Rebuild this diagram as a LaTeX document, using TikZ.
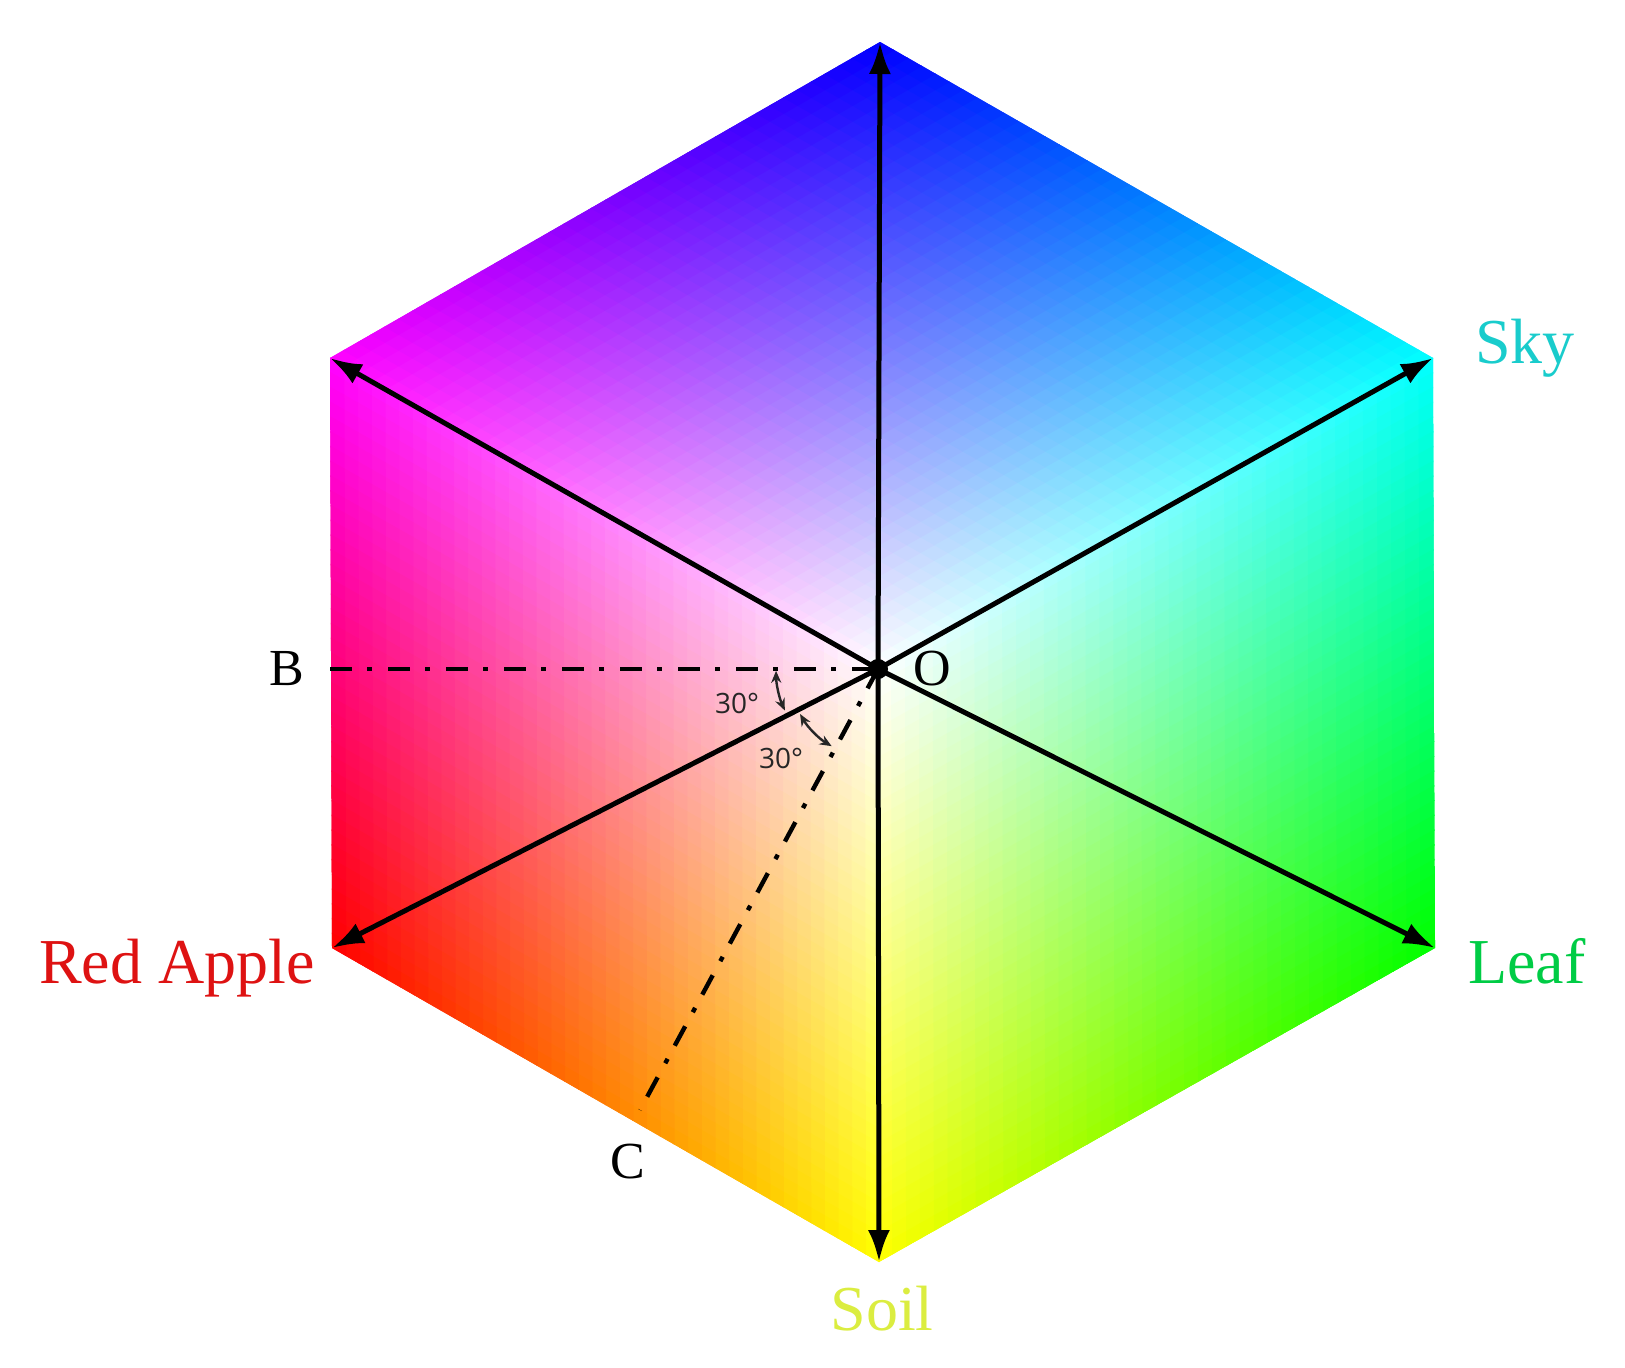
\documentclass[tikz,border=0pt]{standalone}
\usepackage{fontspec}
\setmainfont{Liberation Serif}
\newfontfamily\degfont{Open Sans}
\usetikzlibrary{arrows.meta,calc}

% bilinear grid over quad O(878,669), A, V, B
\newcommand\mkgrid[7]{%
 \foreach \i in {0,...,40}{%
  \foreach \j in {0,...,40}{%
   \pgfmathsetmacro\uu{\i/40}\pgfmathsetmacro\vv{\j/40}%
   \pgfmathsetmacro\px{(1-\uu)*(1-\vv)*878+\uu*(1-\vv)*#2+\uu*\vv*#4+(1-\uu)*\vv*#6}%
   \pgfmathsetmacro\py{(1-\uu)*(1-\vv)*669+\uu*(1-\vv)*#3+\uu*\vv*#5+(1-\uu)*\vv*#7}%
   \coordinate (#1-\i-\j) at (\px,\py);
  }}}
\newcommand\mkcells[2]{%
 \foreach \i in {0,...,39}{%
  \pgfmathtruncatemacro\ip{\i+1}%
  \foreach \j in {0,...,39}{%
   \pgfmathtruncatemacro\jp{\j+1}%
   \pgfmathsetmacro\cu{1-(\i+0.5)/40}%
   \pgfmathsetmacro\cv{1-(\j+0.5)/40}%
   \definecolor{cc}{rgb}{#2}%
   \filldraw[draw=cc,fill=cc,line width=0.7pt,line join=round] (#1-\i-\j) -- (#1-\ip-\j) -- (#1-\ip-\jp) -- (#1-\i-\jp) -- cycle;
  }}}

\definecolor{skyc}{rgb}{0.10,0.80,0.80}
\definecolor{leafc}{rgb}{0.00,0.80,0.27}
\definecolor{soilc}{rgb}{0.86,0.93,0.25}
\definecolor{applec}{rgb}{0.87,0.07,0.07}

\tikzset{
  bigl/.style={font=\fontsize{32}{38}\selectfont, inner sep=0pt, anchor=base},
  letl/.style={font=\fontsize{26}{30}\selectfont, inner sep=0pt, anchor=base, text=black},
  degl/.style={font=\degfont\fontsize{14}{16}\selectfont, inner sep=0pt, anchor=base, text=black!85},
  axisarrow/.style={line width=2.5pt, -{Latex[length=16pt,width=11pt]}},
  dashdotline/.style={line width=2.2pt, dash pattern=on 11pt off 7.5pt on 2.5pt off 8pt},
  anglearrow/.style={line width=1.2pt, black!85, {Stealth[length=6pt,width=5pt]}-{Stealth[length=6pt,width=5pt]}},
}

\begin{document}
\begin{tikzpicture}[x=0.5pt,y=-0.5pt]
\useasboundingbox (0,0) rectangle (1625,1367);
\fill[white] (0,0) rectangle (1625,1367);

\coordinate (T)   at (880,42);
\coordinate (UR)  at (1433,358);
\coordinate (LR)  at (1435,948);
\coordinate (Bot) at (879,1262);
\coordinate (LL)  at (332,948);
\coordinate (UL)  at (330,358);
\coordinate (Bend) at (330,669);
\coordinate (Cend) at (640,1110);

\begin{scope}
\clip (T) -- (UR) -- (LR) -- (Bot) -- (LL) -- (UL) -- cycle;
\mkgrid{F1}{1433}{358}{880}{42}{330}{358}
\mkgrid{F2}{1433}{358}{1435}{948}{879}{1262}
\mkgrid{F3}{879}{1262}{332}{948}{330}{358}
\mkcells{F1}{\cu,\cv,1}
\mkcells{F2}{\cu,1,\cv}
\mkcells{F3}{1,\cv,\cu}
\end{scope}

\node[circle, fill=black, inner sep=0pt, minimum size=10pt] (O) at (878,669) {};

\draw[dashdotline] (Bend) -- (O.center);
\draw[dashdotline] (O.center) -- (Cend);

\draw[axisarrow] (O.center) -- (T);
\draw[axisarrow] (O.center) -- (UR);
\draw[axisarrow] (O.center) -- (LR);
\draw[axisarrow] (O.center) -- (Bot);
\draw[axisarrow] (O.center) -- (LL);
\draw[axisarrow] (O.center) -- (UL);

\draw[anglearrow] ([shift={(179:102)}]O.center) arc[start angle=179, end angle=156, radius=102];
\draw[anglearrow] ([shift={(150:90)}]O.center) arc[start angle=150, end angle=121, radius=90];

\node[bigl, text=skyc] (sky) at (1525,363) {Sky};
\node[bigl, text=leafc] (leaf) at (1527,983) {Leaf};
\node[bigl, text=soilc] (soil) at (882,1330) {Soil};
\node[bigl, text=applec] (apple) at (177,983) {Red Apple};

\node[letl] (Blab) at (287,685) {B};
\node[letl] (Clab) at (628,1178) {C};
\node[letl] (Olab) at (932,685) {O};

\node[degl] (d1) at (737,713) {30°};
\node[degl] (d2) at (781,768) {30°};
\end{tikzpicture}
\end{document}
